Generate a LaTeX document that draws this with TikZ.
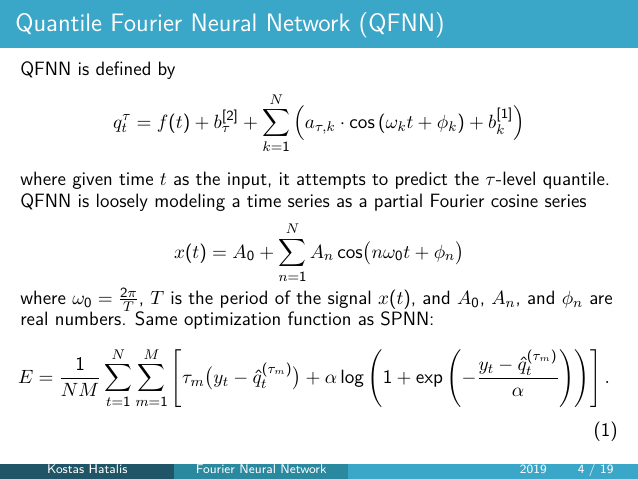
\documentclass[tikz,border=0pt]{standalone}
\usepackage{amsmath,amssymb}
\DeclareSymbolFont{operators}{OT1}{cmss}{m}{n}
\SetSymbolFont{operators}{bold}{OT1}{cmss}{bx}{n}
\definecolor{hdr}{HTML}{3AA6C8}
\definecolor{fdark}{HTML}{1F5566}
\definecolor{fmid}{HTML}{2A889F}
\tikzset{txt/.style={anchor=base west,inner sep=0,font=\fontsize{11}{13}\selectfont\sffamily},
eq/.style={anchor=center,inner sep=0,font=\fontsize{11}{13}\selectfont\sffamily},
foot/.style={anchor=base,inner sep=0,text=white,font=\fontsize{7.2}{8}\selectfont\sffamily}}
\begin{document}
\begin{tikzpicture}[yscale=-1]
\useasboundingbox (0,0) rectangle (12.8,9.6);
\fill[hdr] (0,0) rectangle (12.8,0.96);
\node[anchor=base west,inner sep=0,text=white,font=\fontsize{14.4}{16}\selectfont\sffamily] (title) at (0.3,0.63) {Quantile Fourier Neural Network (QFNN)};
\node[txt] (l1) at (0.4,1.52) {QFNN is defined by};
\node[eq] (e1) at (6.4,2.47) {$\displaystyle q_t^\tau = f(t) + b_\tau^{[2]} + \sum_{k=1}^{N}\Big(a_{\tau,k}\cdot\cos\left(\omega_k t+\phi_k\right)+b_k^{[1]}\Big)$};
\node[txt] (l2) at (0.4,3.72) {where given time $t$ as the input, it attempts to predict the $\tau$-level quantile.};
\node[txt] (l3) at (0.4,4.16) {QFNN is loosely modeling a time series as a partial Fourier cosine series};
\node[eq] (e2) at (6.4,5.07) {$\displaystyle x(t) = A_0 + \sum_{n=1}^{N} A_n\cos\!\big(n\omega_0 t+\phi_n\big)$};
\node[txt] (l4) at (0.4,6.11) {where $\omega_0=\frac{2\pi}{T}$, $T$ is the period of the signal $x(t)$, and $A_0$, $A_n$, and $\phi_n$ are};
\node[txt] (l5) at (0.4,6.54) {real numbers. Same optimization function as SPNN:};
\node[eq] (e3) at (6.3,7.58) {$\displaystyle E=\frac{1}{NM}\sum_{t=1}^{N}\sum_{m=1}^{M}\left[\tau_m\big(y_t-\hat q_t^{(\tau_m)}\big)+\alpha\log\left(1+\exp\left(-\frac{y_t-\hat q_t^{(\tau_m)}}{\alpha}\right)\right)\right].$};
\node[txt,anchor=base east] (num) at (12.4,8.76) {(1)};
\fill[fdark] (0,9.3) rectangle (3.49,9.6);
\fill[fmid] (3.49,9.3) rectangle (6.99,9.6);
\fill[hdr] (6.99,9.3) rectangle (12.8,9.6);
\node[foot] (f1) at (1.75,9.5) {Kostas Hatalis};
\node[foot] (f2) at (5.24,9.5) {Fourier Neural Network};
\node[foot] (f3) at (10.7,9.5) {2019};
\node[foot] (f4) at (11.95,9.5) {4 / 19};
\end{tikzpicture}
\end{document}
